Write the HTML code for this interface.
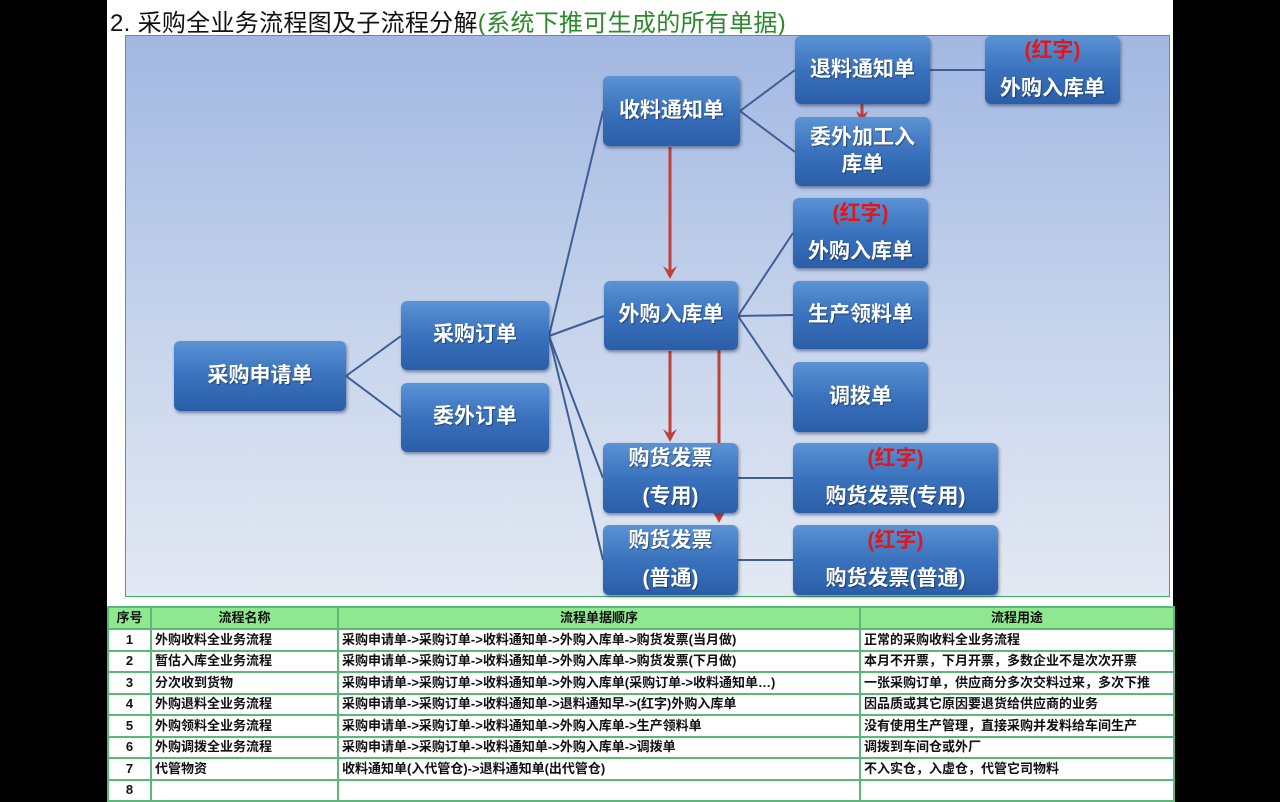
<!DOCTYPE html>
<html><head><meta charset="utf-8"><style>
*{margin:0;padding:0;box-sizing:border-box}
body{width:1280px;height:800px;background:#000;position:relative;overflow:hidden;font-family:"Liberation Sans","Noto Sans CJK SC",sans-serif}
#page{position:absolute;left:107px;top:0;width:1066px;height:800px;background:#fff}
#title{position:absolute;left:110px;top:3px;font-size:24px;color:#111;white-space:nowrap;letter-spacing:0.3px}
#title span{color:#2a8a2a}
#dg{position:absolute;left:125px;top:35px;width:1045px;height:562px;border:1px solid #3cae5a;background:linear-gradient(#a2b8e2,#c8d5ec 55%,#e3e9f3)}
.n{position:absolute;border-radius:6px;background:linear-gradient(#5b93d6,#3a72bd 50%,#2b5ea8);color:#fff;font-weight:bold;font-size:21px;display:flex;flex-direction:column;align-items:center;justify-content:center;text-align:center;box-shadow:1px 2px 3px rgba(20,40,80,.5);line-height:1.25;text-shadow:1px 1px 1px rgba(0,0,0,.4)}
.r{color:#e01818;text-shadow:none}
svg{position:absolute;left:0;top:0}
table{position:absolute;left:107px;top:606px;width:1066px;border-collapse:collapse;font-size:13px;font-weight:bold;color:#111;table-layout:fixed}
td{border:2px solid #5cb87a;height:21.5px;padding:0 3px;white-space:nowrap;overflow:hidden;line-height:16px}
tr.h td{background:#8fe88f;text-align:center;height:22px}
td.c{text-align:center}
</style></head><body>
<div id="page"></div>
<div id="title">2. 采购全业务流程图及子流程分解<span>(系统下推可生成的所有单据)</span></div>
<div id="dg"></div>
<svg width="1280" height="800">
<g stroke="#3f5f94" stroke-width="2" fill="none">
<line x1="346" y1="376" x2="401" y2="336"/><line x1="346" y1="376" x2="401" y2="417"/>
<line x1="549" y1="336" x2="603" y2="111"/><line x1="549" y1="336" x2="604" y2="316"/>
<line x1="549" y1="336" x2="603" y2="478"/><line x1="549" y1="336" x2="603" y2="560"/>
<line x1="740" y1="111" x2="795" y2="70"/><line x1="740" y1="111" x2="795" y2="152"/>
<line x1="930" y1="70" x2="985" y2="70"/>
<line x1="738" y1="316" x2="793" y2="233"/><line x1="738" y1="316" x2="793" y2="315"/><line x1="738" y1="316" x2="793" y2="397"/>
<line x1="738" y1="478" x2="793" y2="478"/><line x1="738" y1="560" x2="793" y2="560"/>
</g>
<g stroke="#c0403a" stroke-width="3">
<line x1="670" y1="147" x2="670" y2="274"/><line x1="670" y1="351" x2="670" y2="438"/>
<line x1="719" y1="350" x2="719" y2="518"/><line x1="862" y1="104" x2="862" y2="118"/>
</g>
<g fill="#c0403a">
<polygon points="663,266 670,279 677,266 670,271"/>
<polygon points="663,429 670,442 677,429 670,434"/>
<polygon points="712,510 719,523 726,510 719,515"/>
<polygon points="856,111 862,124 868,111 862,115"/>
</g>
</svg>
<div class="n" style="left:174px;top:341px;width:172px;height:70px">采购申请单</div>
<div class="n" style="left:401px;top:301px;width:148px;height:69px">采购订单</div>
<div class="n" style="left:401px;top:383px;width:148px;height:69px">委外订单</div>
<div class="n" style="left:603px;top:76px;width:137px;height:70px">收料通知单</div>
<div class="n" style="left:604px;top:281px;width:134px;height:69px">外购入库单</div>
<div class="n" style="left:603px;top:443px;width:135px;height:70px;line-height:1.8">购货发票<br>(专用)</div>
<div class="n" style="left:603px;top:525px;width:135px;height:70px;line-height:1.8">购货发票<br>(普通)</div>
<div class="n" style="left:795px;top:36px;width:135px;height:68px">退料通知单</div>
<div class="n" style="left:795px;top:117px;width:135px;height:69px">委外加工入<br>库单</div>
<div class="n" style="left:985px;top:36px;width:135px;height:68px;line-height:1.8"><span class="r">(红字)</span>外购入库单</div>
<div class="n" style="left:793px;top:198px;width:135px;height:70px;line-height:1.8"><span class="r">(红字)</span>外购入库单</div>
<div class="n" style="left:793px;top:281px;width:135px;height:68px">生产领料单</div>
<div class="n" style="left:793px;top:362px;width:135px;height:70px">调拨单</div>
<div class="n" style="left:793px;top:443px;width:205px;height:70px;line-height:1.8"><span class="r">(红字)</span>购货发票(专用)</div>
<div class="n" style="left:793px;top:525px;width:205px;height:70px;line-height:1.8"><span class="r">(红字)</span>购货发票(普通)</div>
<table>
<colgroup><col style="width:43px"><col style="width:187px"><col style="width:522px"><col style="width:314px"></colgroup>
<tr class="h"><td>序号</td><td>流程名称</td><td>流程单据顺序</td><td>流程用途</td></tr>
<tr><td class="c">1</td><td>外购收料全业务流程</td><td>采购申请单-&gt;采购订单-&gt;收料通知单-&gt;外购入库单-&gt;购货发票(当月做)</td><td>正常的采购收料全业务流程</td></tr>
<tr><td class="c">2</td><td>暂估入库全业务流程</td><td>采购申请单-&gt;采购订单-&gt;收料通知单-&gt;外购入库单-&gt;购货发票(下月做)</td><td>本月不开票，下月开票，多数企业不是次次开票</td></tr>
<tr><td class="c">3</td><td>分次收到货物</td><td>采购申请单-&gt;采购订单-&gt;收料通知单-&gt;外购入库单(采购订单-&gt;收料通知单…)</td><td>一张采购订单，供应商分多次交料过来，多次下推</td></tr>
<tr><td class="c">4</td><td>外购退料全业务流程</td><td>采购申请单-&gt;采购订单-&gt;收料通知单-&gt;退料通知早-&gt;(红字)外购入库单</td><td>因品质或其它原因要退货给供应商的业务</td></tr>
<tr><td class="c">5</td><td>外购领料全业务流程</td><td>采购申请单-&gt;采购订单-&gt;收料通知单-&gt;外购入库单-&gt;生产领料单</td><td>没有使用生产管理，直接采购并发料给车间生产</td></tr>
<tr><td class="c">6</td><td>外购调拨全业务流程</td><td>采购申请单-&gt;采购订单-&gt;收料通知单-&gt;外购入库单-&gt;调拨单</td><td>调拨到车间仓或外厂</td></tr>
<tr><td class="c">7</td><td>代管物资</td><td>收料通知单(入代管仓)-&gt;退料通知单(出代管仓)</td><td>不入实仓，入虚仓，代管它司物料</td></tr>
<tr><td class="c">8</td><td></td><td></td><td></td></tr>
</table>
</body></html>
